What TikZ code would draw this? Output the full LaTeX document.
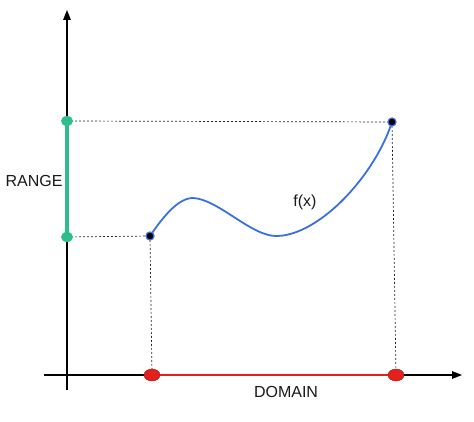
\documentclass[tikz,border=0pt]{standalone}
\usepackage{fontspec}
\setmainfont{Liberation Sans}
\usetikzlibrary{arrows.meta,shapes.geometric}
\definecolor{rangegreen}{HTML}{2DBE8C}
\definecolor{domred}{HTML}{E3201B}
\definecolor{curveblue}{HTML}{3A6FE0}
\tikzset{
  axis/.style={line width=1.4pt, -{Triangle[length=10pt,width=7.5pt]}},
  guide/.style={black!85, line width=0.7pt, dash pattern=on 2pt off 2pt},
  gdot/.style={ellipse, fill=rangegreen, minimum width=12pt, minimum height=10pt, inner sep=0pt},
  rdot/.style={ellipse, fill=domred, draw=domred!70!black, line width=0.4pt, minimum width=16pt, minimum height=12pt, inner sep=0pt},
  bdot/.style={circle, fill=black, draw=curveblue, line width=1.2pt, minimum size=8pt, inner sep=0pt},
  lbl/.style={font=\fontsize{16}{18}\selectfont, text=black!90}
}
\begin{document}
\begin{tikzpicture}[x=1pt,y=-1pt]
\useasboundingbox (0,0) rectangle (474,422);
% axes
\coordinate (xs) at (44,375);
\coordinate (xe) at (462,375);
\coordinate (ys) at (67,390);
\coordinate (ye) at (67,10);
\draw[axis] (xs) -- (xe);
\draw[axis] (ys) -- (ye);
% points
\coordinate (g1) at (67,121);
\coordinate (g2) at (67,237);
\coordinate (p1) at (150,236);
\coordinate (p2) at (392,122);
\coordinate (r1) at (152,375);
\coordinate (r2) at (396,375);
% guides
\draw[guide] (g1) -- (p2);
\draw[guide] (p2) -- (r2);
\draw[guide] (g2) -- (p1);
\draw[guide] (p1) -- (r1);
% range and domain
\draw[rangegreen, line width=3.2pt] (g1) -- (g2);
\draw[domred, line width=2.8pt] (r1) -- (r2);
% curve
\draw[curveblue, line width=1.8pt] (p1) .. controls (163,217) and (178,198) .. (193,198)
  .. controls (218,199) and (252,237) .. (277,236)
  .. controls (320,235) and (375,175) .. (p2);
% dots
\node[gdot] (G1) at (g1) {};
\node[gdot] (G2) at (g2) {};
\node[rdot] (R1) at (r1) {};
\node[rdot] (R2) at (r2) {};
\node[bdot] (P1) at (p1) {};
\node[bdot] (P2) at (p2) {};
% labels
\node[lbl] (range) at (34,181) {RANGE};
\node[lbl] (domain) at (286,392) {DOMAIN};
\node[lbl] (fx) at (305,202) {f(x)};
\end{tikzpicture}
\end{document}
